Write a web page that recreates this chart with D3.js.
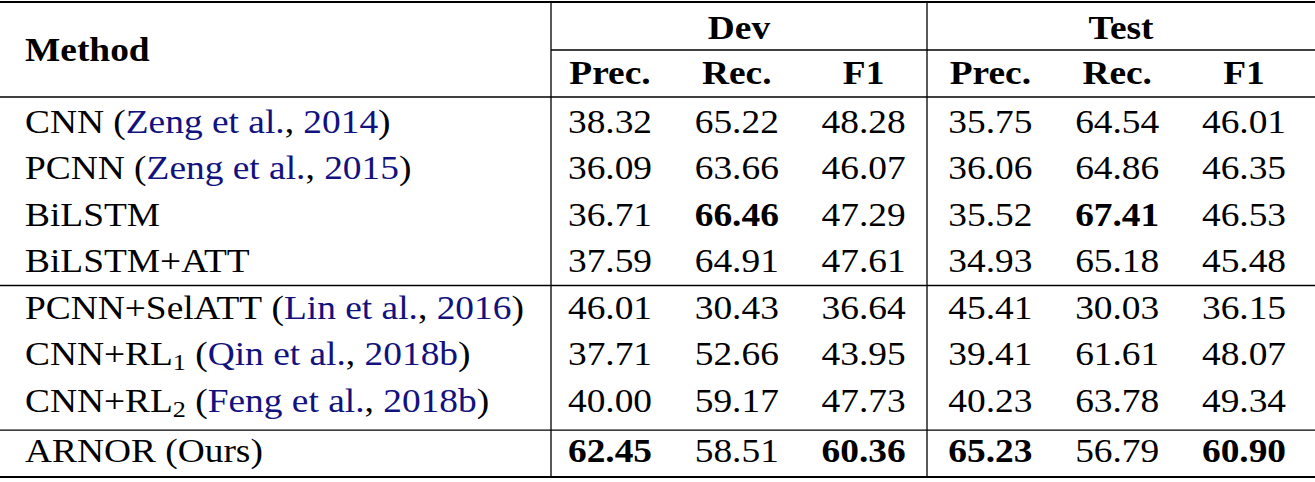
<!DOCTYPE html>
<html><head><meta charset="utf-8">
<script src="https://cdn.jsdelivr.net/npm/d3@7"></script>
<style>body{margin:0;background:#fff}svg{display:block}</style>
</head><body>
<svg id="chart" width="1315" height="482"></svg>
<script>
// ---- data ----
const methods = ["CNN", "PCNN", "BiLSTM", "BiLSTM+ATT", "PCNN+SelATT", "CNN+RL", "CNN+RL", "ARNOR (Ours)"];
const methodSubs = ["", "", "", "", "", "1", "2", ""];
const citeAuthors = ["Zeng et al.", "Zeng et al.", "", "", "Lin et al.", "Qin et al.", "Feng et al.", ""];
const citeYears = ["2014", "2015", "", "", "2016", "2018b", "2018b", ""];
const groups = [0, 0, 0, 0, 1, 1, 1, 2];
const splits = ["Dev", "Test"];
const metrics = ["Prec.", "Rec.", "F1"];
const devPrec = [38.32, 36.09, 36.71, 37.59, 46.01, 37.71, 40.00, 62.45];
const devRec  = [65.22, 63.66, 66.46, 64.91, 30.43, 52.66, 59.17, 58.51];
const devF1   = [48.28, 46.07, 47.29, 47.61, 36.64, 43.95, 47.73, 60.36];
const testPrec = [35.75, 36.06, 35.52, 34.93, 45.41, 39.41, 40.23, 65.23];
const testRec  = [64.54, 64.86, 67.41, 65.18, 30.03, 61.61, 63.78, 56.79];
const testF1   = [46.01, 46.35, 46.53, 45.48, 36.15, 48.07, 49.34, 60.90];
const methodHeader = "Method";

// ---- layout ----
const W = 1315, H = 482;
const FONT = "'Liberation Serif','Times New Roman',serif";
const FS = 34, SX = 1.1;
const CITE = "#12127f";
const columns = [devPrec, devRec, devF1, testPrec, testRec, testF1];
const colKeys = d3.range(columns.length);
const svg = d3.select("#chart");

const x = d3.scalePoint().domain(colKeys).range([610, 1244]);
const y = d3.scaleLinear().domain([0, 7]).range([121, 447]);
const rowY = i => y(i) + (groups[i] === 2 ? 3 : 0);
const xLeft = x(0) - 59;
const xMid = (x(2) + x(3)) / 2;
const yTop = 2, yMid = 50, yHead = 97, yBottom = 477;

function t(sel, xx, yy, anchor) {
  return sel.append("text")
    .attr("transform", `translate(${xx},${yy}) scale(${SX},1)`)
    .attr("text-anchor", anchor)
    .attr("dy", "0.34em")
    .attr("font-family", FONT)
    .attr("font-size", FS)
    .attr("fill", "#000");
}

// header
t(svg, 25, 49, "start").attr("font-weight", "bold").text(methodHeader);
splits.forEach((s, si) => {
  const cx = si === 0 ? (xLeft + xMid) / 2 : (xMid + W) / 2;
  t(svg, cx, 27, "middle").attr("font-weight", "bold").text(s);
});
colKeys.forEach(c => {
  t(svg, x(c), 72, "middle").attr("font-weight", "bold").text(metrics[c % 3]);
});

// method column
methods.forEach((m, i) => {
  const tx = t(svg, 25, rowY(i), "start");
  tx.append("tspan").text(m);
  if (methodSubs[i]) {
    tx.append("tspan").attr("font-size", FS * 0.7).attr("dy", "0.2em").text(methodSubs[i]);
    tx.append("tspan").attr("dy", "-0.14em").text(" ");
  } else if (citeAuthors[i]) {
    tx.append("tspan").text(" ");
  }
  if (citeAuthors[i]) {
    tx.append("tspan").text("(");
    tx.append("tspan").attr("fill", CITE).text(citeAuthors[i]);
    tx.append("tspan").text(", ");
    tx.append("tspan").attr("fill", CITE).text(citeYears[i]);
    tx.append("tspan").text(")");
  }
});

// values
columns.forEach((col, c) => {
  const mx = d3.max(col);
  col.forEach((v, i) => {
    t(svg, x(c), rowY(i), "middle")
      .attr("font-weight", v === mx ? "bold" : "normal")
      .text(d3.format(".2f")(v));
  });
});

// rules
const line = (x1, y1, x2, y2, w) => svg.append("line")
  .attr("x1", x1).attr("y1", y1).attr("x2", x2).attr("y2", y2)
  .attr("stroke", "#000").attr("stroke-width", w);
line(0, yTop, W, yTop, 2.2);
line(xLeft, yMid, W, yMid, 1.3);
line(0, yHead, W, yHead, 1.3);
line(0, (rowY(3) + rowY(4)) / 2 + 1.5, W, (rowY(3) + rowY(4)) / 2 + 1.5, 1.3);
line(0, (rowY(6) + rowY(7)) / 2 + 5, W, (rowY(6) + rowY(7)) / 2 + 5, 1.3);
line(0, yBottom, W, yBottom, 2.2);
line(xLeft, yTop, xLeft, yBottom, 1.3);
line(xMid, yTop, xMid, yBottom, 1.3);
</script>
</body></html>
